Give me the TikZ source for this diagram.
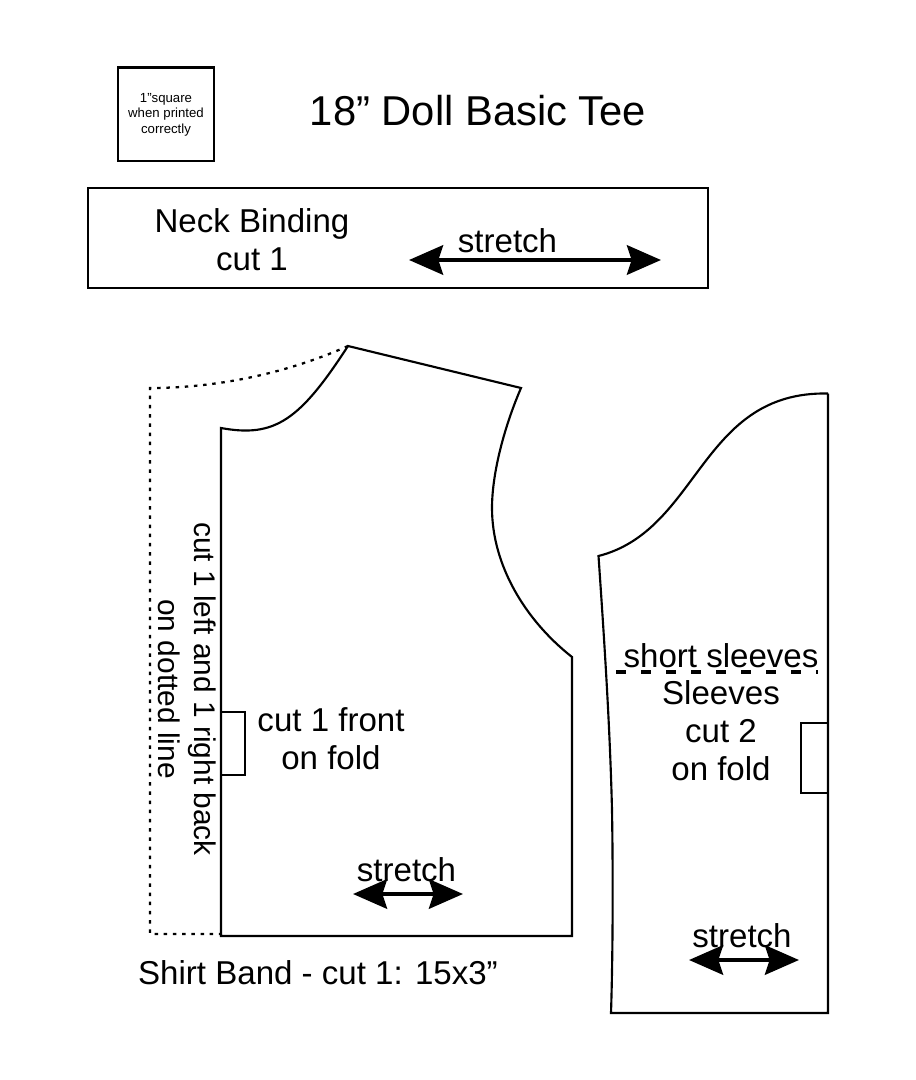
\documentclass[tikz,border=0pt]{standalone}
\usepackage{fontspec}
\setmainfont{Liberation Sans}
\usetikzlibrary{arrows.meta}
\tikzset{
  pat/.style={draw=black,line width=1.6pt,line join=miter},
  thinbox/.style={draw=black,line width=1.2pt},
  dotline/.style={draw=black,line width=1.7pt,dash pattern=on 2.6pt off 4.3pt},
  lab/.style={font=\fontsize{24.8}{28.5}\selectfont,align=center,inner sep=0pt,text=black},
  stretcharrow/.style={draw=black,line width=3.4pt,{Stealth[length=25.5pt,width=22pt,inset=3.5pt]}-{Stealth[length=25.5pt,width=22pt,inset=3.5pt]}},
}
\begin{document}
\begin{tikzpicture}[x=0.75pt,y=-0.75pt]
\useasboundingbox (0,0) rectangle (916,1080);
% one inch square
\draw[pat] (118,67.5) rectangle (214,161);
\node[align=center,inner sep=0pt,font=\fontsize{9.9}{11.5}\selectfont] (sqt) at (166,114.5) {1"square\\when printed\\correctly};
\node[inner sep=0pt,font=\fontsize{31.3}{34}\selectfont] (title) at (478,110.5) {18” Doll Basic Tee};
% neck binding
\draw[pat] (88,188) rectangle (708,288);
\node[lab] (nb) at (252,240) {Neck Binding\\cut 1};
\node[lab] (s1) at (507.5,240.5) {stretch};
\coordinate (a1l) at (409,260); \coordinate (a1r) at (661,260);
\draw[stretcharrow] (a1l) -- (a1r);
% body
\coordinate (neck) at (221,428);
\coordinate (shoulder) at (348,346);
\coordinate (tip) at (521,388);
\coordinate (arm) at (492,508);
\coordinate (under) at (572,657);
\coordinate (br) at (572,936);
\coordinate (bl) at (221,936);
\draw[pat] (neck) .. controls (275,438) and (300,420) .. (shoulder) -- (tip)
  .. controls (505,425) and (492,472) .. (arm)
  .. controls (492,565) and (525,620) .. (under) -- (br) -- (bl) -- cycle;
% dotted back
\coordinate (dtl) at (150,388);
\coordinate (dbl) at (150,934);
\coordinate (dbr) at (221,934);
\draw[dotline] (shoulder) .. controls (290,372) and (220,388) .. (dtl) -- (dbl) -- (dbr);
% fold mark
\draw[thinbox] (221,712) -- (245,712) -- (245,775) -- (221,775);
\node[lab] (front) at (331,739) {cut 1 front\\on fold};
\node[lab,rotate=-90,font=\fontsize{22.4}{27}\selectfont] (back) at (187.5,689) {cut 1 left and 1 right back\\on dotted line};
\node[lab] (s2) at (406.5,870) {stretch};
\coordinate (a2l) at (353,894); \coordinate (a2r) at (463,894);
\draw[stretcharrow] (a2l) -- (a2r);
\node[lab] (band) at (318,973) {Shirt Band - cut 1: 15x3”};
% sleeve
\coordinate (sa) at (828,393.5);
\coordinate (sb) at (828,1013);
\coordinate (sc) at (611,1013);
\coordinate (sm) at (612,810);
\coordinate (sd) at (598.5,556);
\draw[pat] (sa) -- (sb) -- (sc) .. controls (613,950) and (613,870) .. (sm)
  .. controls (610,730) and (605,650) .. (sd)
  .. controls (700,530) and (700,391) .. (sa);
\coordinate (dl) at (616,672); \coordinate (dr) at (818,672);
\draw[draw=black,line width=3.4pt,dash pattern=on 7.5pt off 11.25pt] (dl) -- (dr);
\node[lab] (ss) at (721,656) {short sleeves};
\node[lab] (sl) at (721,731) {Sleeves\\cut 2\\on fold};
\draw[thinbox] (828,723) -- (801,723) -- (801,793) -- (828,793);
\node[lab] (s3) at (742,936) {stretch};
\coordinate (a3l) at (689,960); \coordinate (a3r) at (799,960);
\draw[stretcharrow] (a3l) -- (a3r);
\end{tikzpicture}
\end{document}
